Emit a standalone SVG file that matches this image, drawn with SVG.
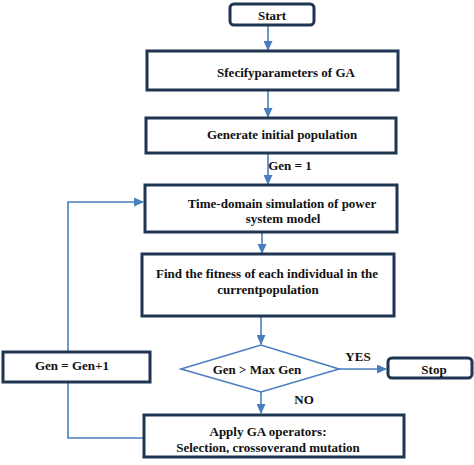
<svg xmlns="http://www.w3.org/2000/svg" width="474" height="465" viewBox="0 0 474 465">
<defs>
<style>
.box{fill:#fff;stroke:#1f3552;stroke-width:3}
.ln{fill:none;stroke:#4a7dbf;stroke-width:1.6}
.t{text-anchor:middle;fill:#111}
</style>
<marker id="ah" viewBox="0 0 10 10" refX="9" refY="5" markerWidth="10" markerHeight="9" markerUnits="userSpaceOnUse" orient="auto" preserveAspectRatio="none">
<path d="M0,0 L10,5 L0,10 z" fill="#4a7dbf"/>
</marker>
</defs>
<rect width="474" height="465" fill="#fff"/>
<g font-family="Liberation Serif" font-weight="bold" font-size="13">
<g id="connectors">
<line class="ln" x1="268" y1="25" x2="268" y2="50" marker-end="url(#ah)"/>
<line class="ln" x1="268" y1="91" x2="268" y2="117" marker-end="url(#ah)"/>
<line class="ln" x1="268" y1="154" x2="268" y2="184" marker-end="url(#ah)"/>
<line class="ln" x1="262" y1="233" x2="262" y2="253" marker-end="url(#ah)"/>
<line class="ln" x1="261" y1="317" x2="261" y2="344" marker-end="url(#ah)"/>
<line class="ln" x1="339" y1="369" x2="386" y2="369" marker-end="url(#ah)"/>
<line class="ln" x1="261" y1="392" x2="261" y2="413" marker-end="url(#ah)"/>
<polyline class="ln" points="68,352 68,202 143,202" marker-end="url(#ah)"/>
<polyline class="ln" points="68,383 68,438 143,438"/>
<text class="t" x="290" y="170">Gen = 1</text>
<text class="t" x="358" y="361">YES</text>
<text class="t" x="304" y="404">NO</text>
</g>
<g id="start">
<rect class="box" x="230" y="4" width="84" height="21" rx="4"/>
<text class="t" x="272" y="20">Start</text>
</g>
<g id="specify">
<rect class="box" x="147" y="51" width="251" height="39"/>
<text class="t" x="286" y="77">Sfecifyparameters of GA</text>
</g>
<g id="generate">
<rect class="box" x="146" y="118" width="250" height="35"/>
<text class="t" x="282" y="139">Generate initial population</text>
</g>
<g id="simulation">
<rect class="box" x="145" y="185" width="252" height="47"/>
<text class="t" x="282" y="208">Time-domain simulation of power</text>
<text class="t" x="283" y="223">system model</text>
</g>
<g id="fitness">
<rect class="box" x="142" y="254" width="252" height="62"/>
<text class="t" x="267" y="278">Find the fitness of each individual in the</text>
<text class="t" x="268" y="294">currentpopulation</text>
</g>
<g id="decision">
<polygon points="181,369 261,345 339,369 261,392" fill="#fff" stroke="#4a7dbf" stroke-width="1.6"/>
<text class="t" x="257" y="374">Gen &gt; Max Gen</text>
</g>
<g id="stop">
<rect class="box" x="388" y="358" width="84" height="20" rx="4"/>
<text class="t" x="434" y="374">Stop</text>
</g>
<g id="increment">
<rect class="box" x="3" y="352" width="147" height="30"/>
<text class="t" x="72" y="370">Gen = Gen+1</text>
</g>
<g id="operators">
<rect class="box" x="144" y="415" width="260" height="42"/>
<text class="t" x="268" y="436">Apply GA operators:</text>
<text class="t" x="268" y="452">Selection, crossoverand mutation</text>
</g>
</g>
</svg>
